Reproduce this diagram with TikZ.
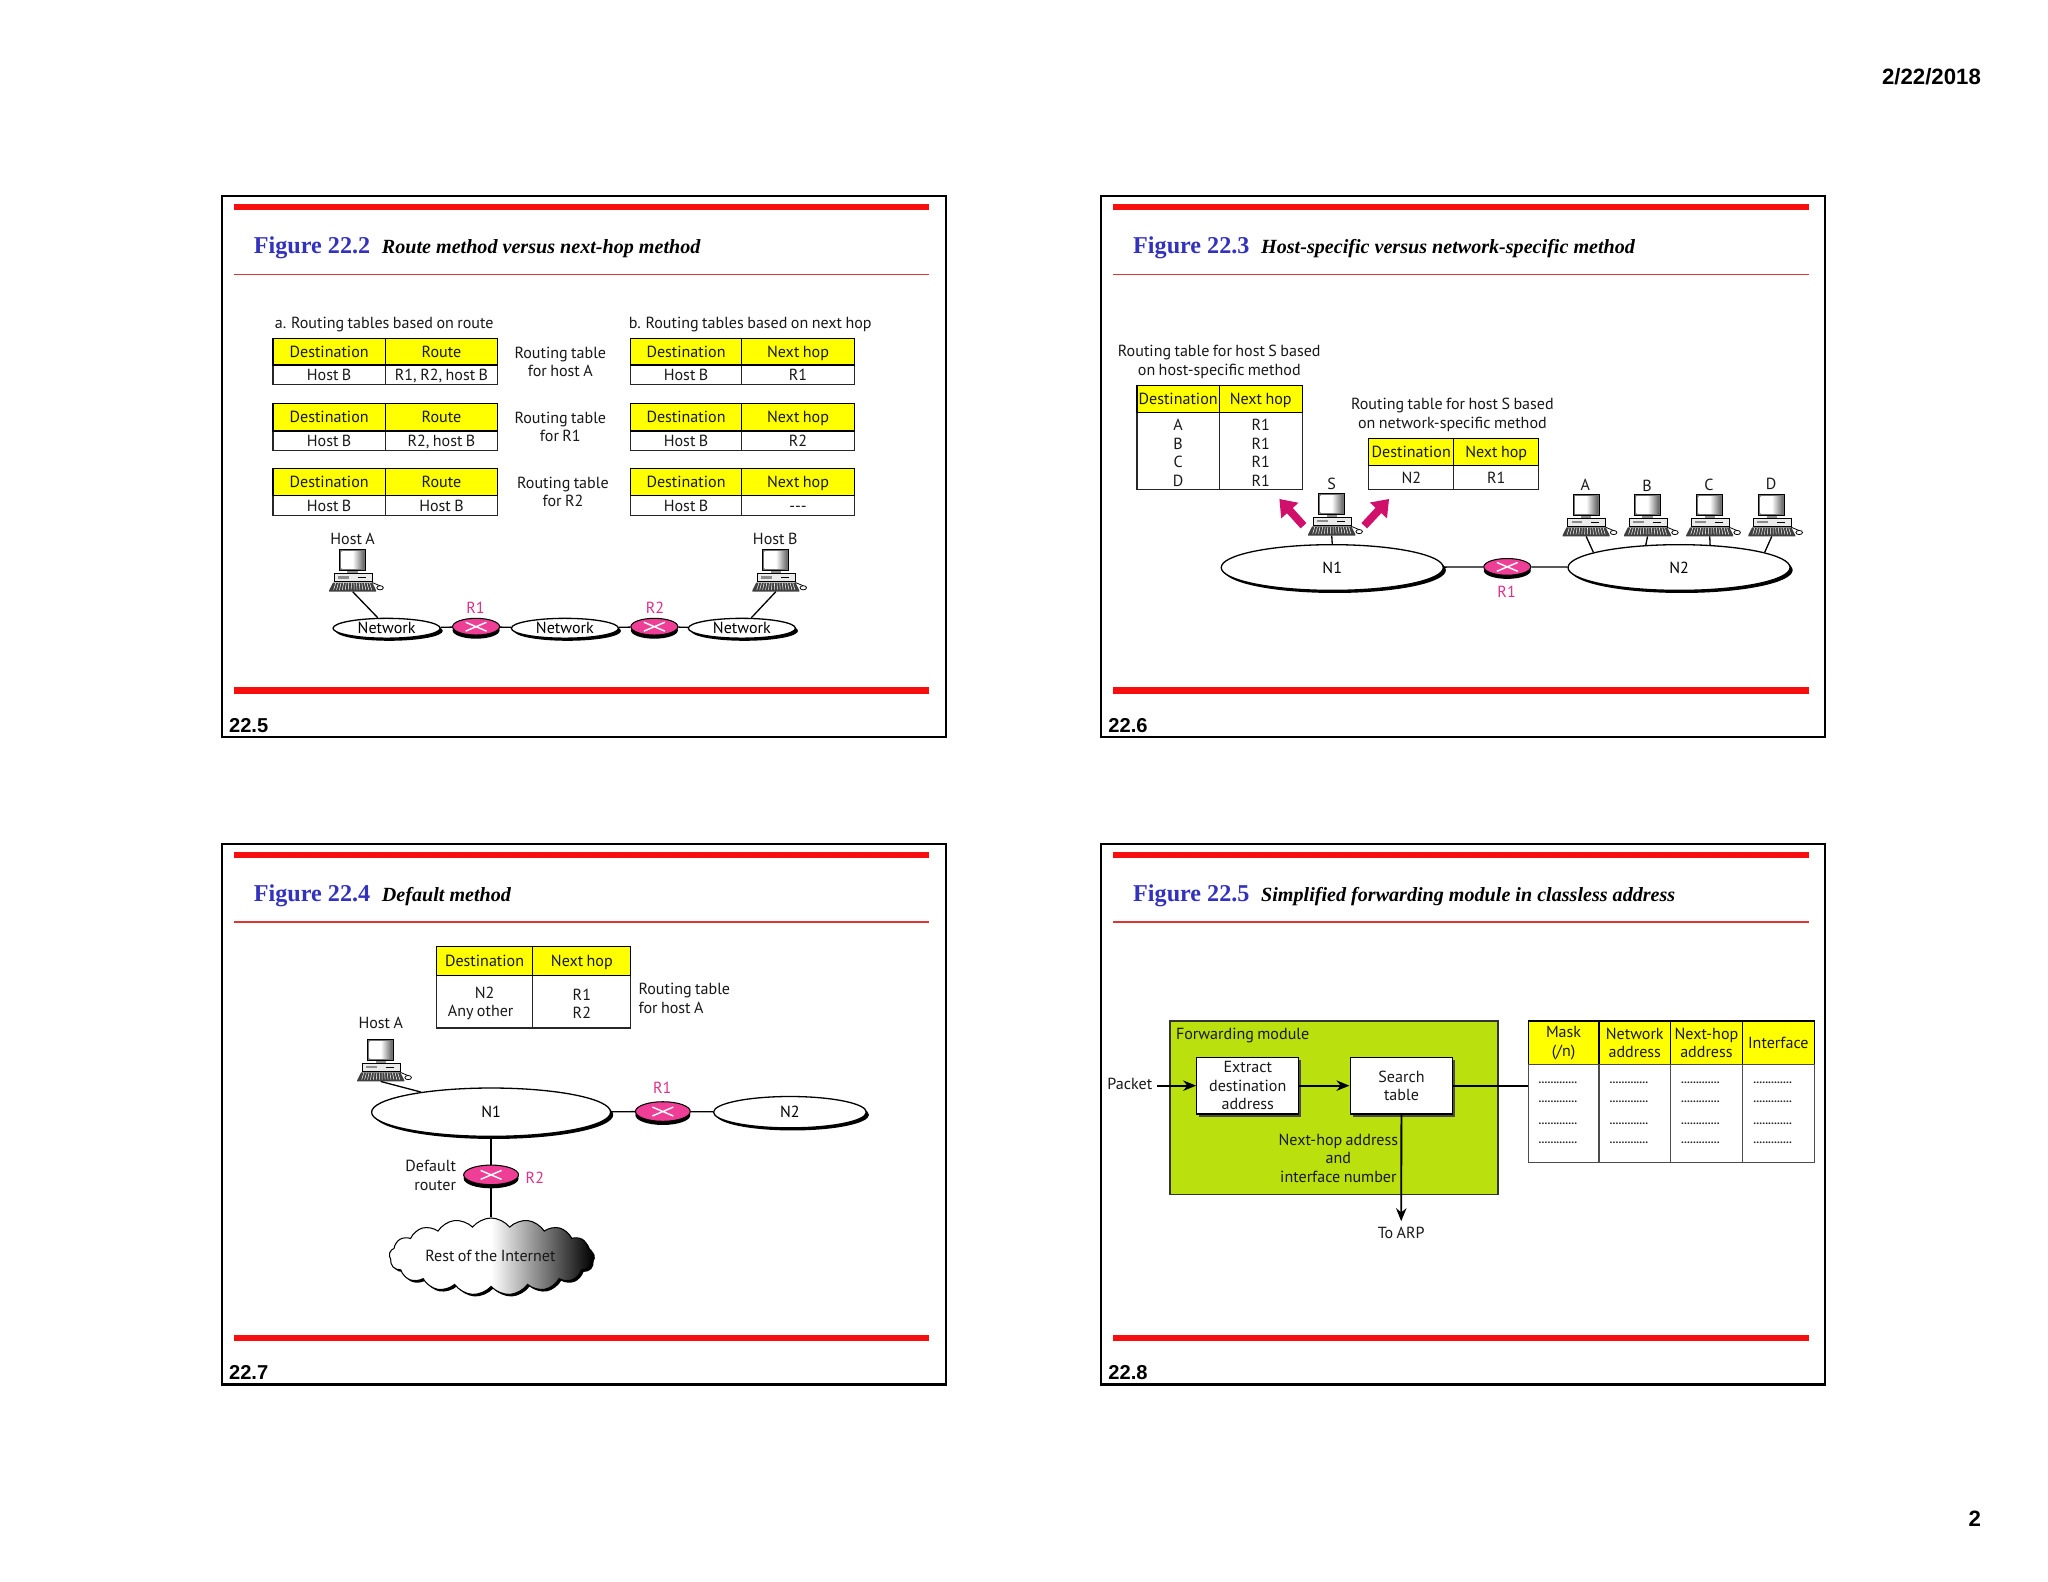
\documentclass[tikz,border=0pt]{standalone}
\usepackage{fontspec}
\setmainfont[WordSpace=0.8]{PT Sans}
\newfontfamily\serifbf{Liberation Serif}
\newfontfamily\arialf{Liberation Sans}
\usetikzlibrary{shapes.geometric,shapes.symbols,shadows,arrows.meta}
\definecolor{ybar}{HTML}{FFFF00}
\definecolor{rbar}{HTML}{F70F0F}
\definecolor{rthin}{HTML}{DC3535}
\definecolor{figblue}{HTML}{3232BE}
\definecolor{rpink}{HTML}{EE3E96}
\definecolor{lpink}{HTML}{E0308A}
\definecolor{upink}{HTML}{D0106A}
\definecolor{modgreen}{HTML}{BAE00E}
\tikzset{
  x=0.5pt,y=-0.5pt,
  txt/.style={font=\fontsize{6.15}{7.1}\selectfont,align=center,inner sep=0pt,text=black!90},
  hdr/.style={draw=black,line width=.45pt,fill=ybar},
  bod/.style={draw=black!85,line width=.45pt,fill=white},
  net/.style={ellipse,draw=black,line width=.5pt,fill=white,inner sep=0pt,
    font=\fontsize{6.15}{7.1}\selectfont,
    drop shadow={shadow xshift=1pt,shadow yshift=-1pt,fill=black,opacity=1}},
  router/.style={ellipse,draw=black,line width=.4pt,fill=rpink,inner sep=0pt,
    minimum width=18pt,minimum height=6.4pt,
    drop shadow={shadow xshift=0pt,shadow yshift=-1.4pt,fill=black,opacity=1},
    path picture={\draw[white,line width=.55pt]
       (path picture bounding box.center) ++(-8,-3.4) -- ++(16,6.8)
       (path picture bounding box.center) ++(-8,3.4) -- ++(16,-6.8);}},
  link/.style={draw=black,line width=.5pt},
  arr/.style={draw=black,line width=.7pt,-{Stealth[length=5pt,width=4pt]}},
  bluearrow/.style={draw=upink,line width=3pt,-{Triangle[length=6pt,width=8.5pt]}},
  rlabel/.style={txt,text=lpink},
  procbox/.style={draw=black,line width=.5pt,fill=white,
    drop shadow={shadow xshift=1pt,shadow yshift=-1pt,fill=black!70,opacity=1}},
  dots/.style={font=\bfseries\fontsize{4.4}{5}\selectfont,inner sep=0pt,anchor=base west,text=black!85},
}
\newcommand{\slidepanel}[6]{% x y figure subtitle number id
  \begin{scope}[shift={(#1,#2)}]
    \fill[white] (0,0) rectangle (554,414);
    \draw[black,line width=.8pt] (0,0) rectangle (554,414);
    \fill[rbar] (9,6) rectangle (541.5,11);
    \draw[rthin,line width=.5pt] (9,60) -- (541.5,60);
    \fill[rbar] (9,376) rectangle (541.5,381);
    \node[anchor=base west,inner sep=0pt,text=figblue,font=\serifbf\bfseries\fontsize{9.25}{10}\selectfont] (fig#6) at (24,44) {#3};
    \node[anchor=base west,inner sep=0pt,text=black,font=\serifbf\bfseries\itshape\fontsize{7.7}{8}\selectfont] (sub#6) at (122,44) {#4};
    \node[anchor=base west,inner sep=0pt,font=\arialf\bfseries\fontsize{7.7}{8}\selectfont] (num#6) at (5,410.5) {#5};
  \end{scope}}
\newcommand{\tabcols}[3]{\def\xa{#1}\def\xb{#2}\def\xc{#3}}
\newcommand{\rtable}[8]{% id y0 ym y1 H1 H2 B1 B2
  \draw[bod] (\xa,#3) rectangle node[txt,yshift=-.7pt] (#1c) {\vphantom{Dp}#7} (\xb,#4);
  \draw[bod] (\xb,#3) rectangle node[txt,yshift=-.7pt] (#1d) {\vphantom{Dp}#8} (\xc,#4);
  \draw[hdr] (\xa,#2) rectangle node[txt,yshift=-.5pt] (#1a) {\vphantom{Dp}#5} (\xb,#3);
  \draw[hdr] (\xb,#2) rectangle node[txt,yshift=-.5pt] (#1b) {\vphantom{Dp}#6} (\xc,#3);
}
\newcommand{\computer}[3]{% name x y (keyboard centre, keyboard bottom)
  \coordinate (#1) at (#2,#3);
  \begin{scope}[shift={(#2,#3)}]
    \draw[line width=.4pt,fill=black!55] (-10,-32) rectangle (10,-16);
    \fill[left color=white,right color=black!60,middle color=white] (-8.5,-30.5) rectangle (8.5,-17.5);
    \fill[black!45] (-4,-15.5) rectangle (4,-14);
    \draw[line width=.3pt,fill=black!8] (-14,-14) rectangle (15,-7.5);
    \fill[black!45] (-11,-12) rectangle (-3,-10);
    \draw[line width=.4pt] (4,-11) -- (10,-11);
    \fill[black!75] (-15,-7) -- (15,-7) -- (18,-1) -- (18,0) -- (-18,0) -- (-18,-1) -- cycle;
    \foreach \kk in {-13,-11,...,13}{\draw[white,line width=.2pt] (\kk,-6.5) -- ({\kk*1.12},-1.5);}
    \draw[line width=.3pt,fill=white] (21,-3) ellipse (2.5 and 1.6);
    \draw[line width=.3pt] (15,-7) -- (21,-4.5);
  \end{scope}}
\begin{document}
\begin{tikzpicture}
\useasboundingbox (0,0) rectangle (1568,1211);
\fill[white] (0,0) rectangle (1568,1211);
\node[anchor=east,inner sep=0pt,font=\arialf\bfseries\fontsize{8.5}{9}\selectfont] (datelabel) at (1517,58.5) {2/22/2018};
\node[anchor=east,inner sep=0pt,font=\arialf\bfseries\fontsize{8.5}{9}\selectfont] (pagelabel) at (1517,1162.5) {2};
\slidepanel{170}{150}{Figure 22.2}{Route method versus next-hop method}{22.5}{A}
\slidepanel{843.2}{150}{Figure 22.3}{Host-specific versus network-specific method}{22.6}{B}
\slidepanel{170}{646}{Figure 22.4}{Default method}{22.7}{C}
\slidepanel{843.2}{646}{Figure 22.5}{Simplified forwarding module in classless address}{22.8}{D}

%% ---------- Panel 1
\node[txt,anchor=west] (capa) at (210,248.5) {a. Routing tables based on route};
\node[txt,anchor=west] (capb) at (481,248.5) {b. Routing tables based on next hop};
\tabcols{209}{295}{381}
\rtable{ta}{259}{279.5}{294.5}{Destination}{Route}{Host B}{R1, R2, host B}
\rtable{tb}{309}{330}{345}{Destination}{Route}{Host B}{R2, host B}
\rtable{tc}{359}{379.5}{394.5}{Destination}{Route}{Host B}{Host B}
\tabcols{482.5}{568}{654}
\rtable{td}{259}{279.5}{294.5}{Destination}{Next hop}{Host B}{R1}
\rtable{te}{309}{330}{345}{Destination}{Next hop}{Host B}{R2}
\rtable{tf}{359}{379.5}{394.5}{Destination}{Next hop}{Host B}{{-}{-}{-}}
\node[txt] (lra) at (429,277) {Routing table\\for host A};
\node[txt] (lrb) at (429,327) {Routing table\\for R1};
\node[txt] (lrc) at (431,376.5) {Routing table\\for R2};
\node[txt] (lha) at (270,412.5) {Host A};
\node[txt] (lhb) at (593.5,412.5) {Host B};
\computer{ha}{270}{453}
\computer{hb}{594}{453}
\node[net,minimum width=41pt,minimum height=7.6pt] (pn1) at (296,481) {Network};
\node[net,minimum width=41pt,minimum height=7.6pt] (pn2) at (432.5,481) {Network};
\node[net,minimum width=41pt,minimum height=7.6pt] (pn3) at (568,481) {Network};
\node[router] (pr1) at (364.5,479.8) {};
\node[router] (pr2) at (501,479.8) {};
\node[rlabel] (lpr1) at (364,465) {R1};
\node[rlabel] (lpr2) at (501.5,465) {R2};
\path[link] (pn1) -- (pr1);
\path[link] (pr1) -- (pn2);
\path[link] (pn2) -- (pr2);
\path[link] (pr2) -- (pn3);
\path[link] (ha) -- (pn1.130);
\path[link] (hb) -- (pn3.48);

%% ---------- Panel 2
\node[txt] (cs1) at (933.5,277) {Routing table for host S based\\on host-specific method};
\tabcols{870.5}{933.5}{997}
\rtable{tg}{295}{316}{374.5}{Destination}{Next hop}{A\\B\\C\\D}{R1\\R1\\R1\\R1}
\node[txt] (cs2) at (1112,317.5) {Routing table for host S based\\on network-specific method};
\tabcols{1048}{1113}{1178}
\rtable{th}{335.5}{356.5}{374.5}{Destination}{Next hop}{N2}{R1}
\node[txt] (ls) at (1019.6,370.5) {S};
\computer{cs}{1019.6}{410}
\coordinate (u1a) at (998,402.5);
\coordinate (u1b) at (979.5,382);
\coordinate (u2a) at (1044.5,402.5);
\coordinate (u2b) at (1063.5,382);
\path[bluearrow] (u1a) -- (u1b);
\path[bluearrow] (u2a) -- (u2b);
\node[net,minimum width=85pt,minimum height=17.5pt] (bn1) at (1020,434.5) {N1};
\node[net,minimum width=85pt,minimum height=17.5pt] (bn2) at (1285.5,434.5) {N2};
\node[router] (br1) at (1154,434) {};
\node[rlabel] (lbr1) at (1153.5,453) {R1};
\path[link] (bn1) -- (br1);
\path[link] (br1) -- (bn2);
\node[txt] (lca) at (1213.7,371.5) {A};
\node[txt] (lcb) at (1261,372) {B};
\node[txt] (lcc) at (1308.5,371) {C};
\node[txt] (lcd) at (1356,370.5) {D};
\computer{ca}{1214.4}{410.7}
\computer{cb}{1261.4}{410.7}
\computer{cc}{1309}{410.7}
\computer{cd}{1356.5}{410.7}
\path[link] (cs) -- (bn1.north);
\path[link] (ca) -- (bn2.170);
\path[link] (cb) -- (bn2.146);
\path[link] (cc) -- (bn2.36);
\path[link] (cd) -- (bn2.10);

%% ---------- Panel 3
\tabcols{334}{408}{483}
\rtable{ti}{724.5}{747}{787}{Destination}{Next hop}{N2\\\hspace*{-3pt}Any other}{R1\\R2}
\node[txt,align=left,anchor=west] (lrt3) at (488.5,764.5) {Routing table\\for host A};
\node[txt] (lh3) at (291.5,783) {Host A};
\computer{hc}{291.5}{828}
\node[net,minimum width=91.5pt,minimum height=18.5pt] (cn1) at (376,851.5) {N1};
\node[net,minimum width=58.5pt,minimum height=12pt] (cn2) at (604.8,851.5) {N2};
\node[router,minimum width=21pt,minimum height=7.5pt] (cr1) at (507.5,851) {};
\node[router,minimum width=21pt,minimum height=7.5pt] (cr2) at (376,899.5) {};
\node[rlabel] (lcr1) at (507,832.5) {R1};
\node[rlabel] (lcr2) at (409.5,901.5) {R2};
\node[txt,align=right,anchor=east] (ldr) at (349.5,900) {Default\\router};
\node[cloud,draw=black,line width=.4pt,cloud puffs=17,cloud puff arc=105,aspect=2.7,
  minimum width=78pt,minimum height=29.5pt,inner sep=0pt,
  left color=white,right color=black,middle color=white,
  drop shadow={shadow xshift=.8pt,shadow yshift=-.8pt,fill=black,opacity=1}] (cloudnet) at (376,962) {};
\node[txt] (lcloud) at (375.5,961.2) {Rest of the Internet};
\path[link] (cn1) -- (cr1);
\path[link] (cr1) -- (cn2);
\path[link] (cn1) -- (cr2);
\path[link] (cr2) -- (cloudnet);
\path[link] (hc) -- (cn1.164);

%% ---------- Panel 4
\node[draw=black!80,line width=.5pt,fill=modgreen,minimum width=125.6pt,minimum height=66.4pt,inner sep=0pt] (fwd) at (1021.3,848.2) {};
\node[txt,anchor=west] (lfwd) at (900,792.5) {Forwarding module};
\node[procbox,txt,minimum width=39pt,minimum height=21.8pt] (extr) at (955.3,831.2) {Extract\\destination\\address};
\node[procbox,txt,minimum width=39.3pt,minimum height=21.8pt] (srch) at (1073,831.2) {Search\\table};
\node[txt] (lpack) at (865,830) {Packet};
\node[txt] (lnh) at (1024.7,886.6) {Next-hop address\\and\\interface number};
\node[txt] (larp) at (1072.8,943.7) {To ARP};
\coordinate (pin) at (886,831.2);
\node[draw=black,line width=.5pt,fill=ybar,minimum width=27.1pt,minimum height=16.7pt,inner sep=0pt,txt,draw=black] (m1) at (1197.1,798.5) {Mask\\(/n)};
\node[draw=black,line width=.5pt,fill=ybar,minimum width=27.4pt,minimum height=16.7pt,inner sep=0pt,txt,draw=black] (m2) at (1251.6,798.5) {Network\\address};
\node[draw=black,line width=.5pt,fill=ybar,minimum width=27.5pt,minimum height=16.7pt,inner sep=0pt,txt,draw=black] (m3) at (1306.5,798.5) {Next-hop\\address};
\node[draw=black,line width=.5pt,fill=ybar,minimum width=27.5pt,minimum height=16.7pt,inner sep=0pt,txt,draw=black] (m4) at (1361.5,798.5) {Interface};
\node[draw=black!70,line width=.5pt,fill=white,minimum width=27.1pt,minimum height=37.3pt,inner sep=0pt] (c1) at (1197.1,852.5) {};
\node[draw=black!70,line width=.5pt,fill=white,minimum width=27.4pt,minimum height=37.3pt,inner sep=0pt] (c2) at (1251.6,852.5) {};
\node[draw=black!70,line width=.5pt,fill=white,minimum width=27.5pt,minimum height=37.3pt,inner sep=0pt] (c3) at (1306.5,852.5) {};
\node[draw=black!70,line width=.5pt,fill=white,minimum width=27.5pt,minimum height=37.3pt,inner sep=0pt] (c4) at (1361.5,852.5) {};
\foreach \cx/\cn in {1177.6/1,1232/2,1286.7/3,1342/4}{
  \foreach \cy/\rn in {829.5/1,844/2,861/3,875.5/4}{
    \node[dots] (dot\cn\rn) at (\cx,\cy) {.............};
  }
}
\path[arr] (pin) -- (extr);
\path[arr] (extr) -- (srch);
\path[link,line width=.8pt] (srch) -- (c1.west |- srch);
\coordinate (arpend) at (1072.8,935);
\path[arr] (srch) -- (arpend);
\end{tikzpicture}
\end{document}
